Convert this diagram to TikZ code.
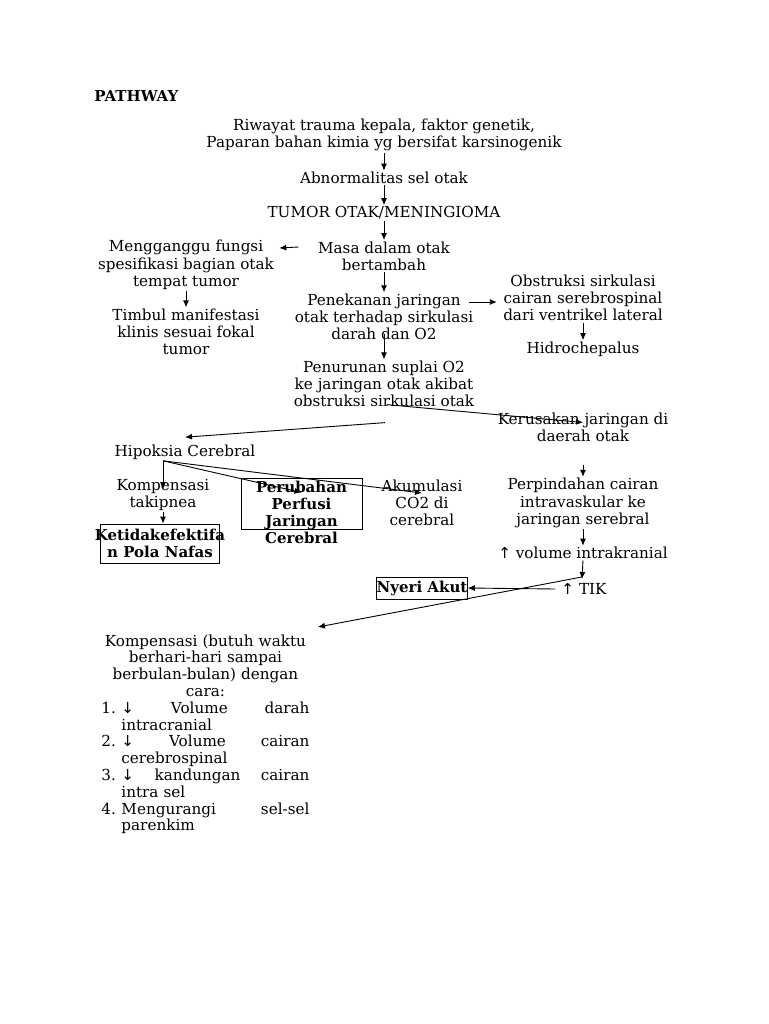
\documentclass[tikz,border=0pt]{standalone}
\usepackage{fontspec}
\setmainfont{DejaVu Serif}
\newfontfamily\arrowfont{DejaVu Sans}
\usetikzlibrary{arrows.meta}
\newcommand{\upar}{{\arrowfont ↑}}
\newcommand{\dnar}{{\arrowfont ↓}}

\begin{document}
\begin{tikzpicture}[x=1pt, y=-1pt, >={Latex[length=7pt,width=6pt]}, line width=0.9pt,
        txt/.style={align=center, inner sep=1pt, font=\fontsize{15.2}{17.3}\selectfont},
        bold/.style={txt, font=\fontsize{15}{17}\selectfont\bfseries},
        box/.style={draw, line width=0.9pt}]
        \useasboundingbox (0,0) rectangle (768,1024);

        \node[anchor=west, inner sep=0pt, font=\fontsize{15}{15}\selectfont\bfseries] (title) at (94,96) {PATHWAY};

        \node[txt] (cause) at (384,135) {Riwayat trauma kepala, faktor genetik,\\Paparan bahan kimia yg bersifat karsinogenik};
        \node[txt] (abnorm) at (384,178) {Abnormalitas sel otak};
        \node[txt] (tumor) at (384,213) {TUMOR OTAK/MENINGIOMA};
        \node[txt] (masa) at (384,256) {Masa dalam otak\\bertambah};
        \node[txt] (ganggu) at (186,265) {Mengganggu fungsi\\spesifikasi bagian otak\\tempat tumor};
        \node[txt] (timbul) at (186,332) {Timbul manifestasi\\klinis sesuai fokal\\tumor};
        \node[txt] (tekan) at (384,317) {Penekanan jaringan\\otak terhadap sirkulasi\\darah dan O2};
        \node[txt] (obstr) at (583,298) {Obstruksi sirkulasi\\cairan serebrospinal\\dari ventrikel lateral};
        \node[txt] (hidro) at (583,349) {Hidrochepalus};
        \node[txt] (turun) at (384,384) {Penurunan suplai O2\\ke jaringan otak akibat\\obstruksi sirkulasi otak};
        \node[txt] (rusak) at (583,427) {Kerusakan jaringan di\\daerah otak};
        \node[txt] (hipoksia) at (185,452) {Hipoksia Cerebral};
        \node[txt] (takip) at (163,495) {Kompensasi\\takipnea};
        \node[txt] (akumulasi) at (422,503) {Akumulasi\\CO2 di\\cerebral};
        \node[txt] (pindah) at (583,503) {Perpindahan cairan\\intravaskular ke\\jaringan serebral};
        \node[txt] (volume) at (583,553) {\upar\ volume intrakranial};
        \node[txt] (tik) at (584,589) {\upar\ TIK};

        \node[box, minimum width=121pt, minimum height=51pt] (perfusi) at (301.5,503.5) {};
        \node[bold] (perfusitx) at (301.5,512) {Perubahan\\Perfusi\\Jaringan\\Cerebral};
        \node[box, bold, inner xsep=-6pt, minimum height=39pt] (napas) at (160,543.5) {Ketidakefektifa\\n Pola Nafas};
        \node[box, bold, minimum width=90pt, minimum height=22pt, inner sep=0pt] (nyeri) at (422,588) {Nyeri Akut};

        \node[anchor=north west, inner sep=0pt, text width=208pt, font=\fontsize{15.2}{16.8}\selectfont] (komp) at (101,634) {\parindent=0pt
                {\centering Kompensasi (butuh waktu\\berhari-hari sampai\\berbulan-bulan) dengan\\cara:\par}
                \makebox[20pt][l]{1.}\dnar\hfill Volume\hfill darah\par
                \hspace*{20pt}intracranial\par
                \makebox[20pt][l]{2.}\dnar\hfill Volume\hfill cairan\par
                \hspace*{20pt}cerebrospinal\par
                \makebox[20pt][l]{3.}\dnar\hfill kandungan\hfill cairan\par
                \hspace*{20pt}intra sel\par
                \makebox[20pt][l]{4.}Mengurangi\hfill sel-sel\par
                \hspace*{20pt}parenkim\par};

        \coordinate (hk) at ([xshift=-22pt]hipoksia.south);

        \draw[->] (cause) -- (abnorm);
        \draw[->] (abnorm) -- (tumor);
        \draw[->] (tumor) -- (masa);
        \draw[->] ([xshift=-18pt,yshift=9pt]masa.west) -- ([xshift=4pt,yshift=17pt]ganggu.east);
        \draw[->] (ganggu) -- (timbul);
        \draw[->] (masa) -- (tekan);
        \draw[->] ([xshift=-6pt,yshift=15pt]tekan.east) -- ([xshift=-5pt,yshift=-4pt]obstr.west);
        \draw[->] (obstr) -- (hidro);
        \draw[->, shorten <=-8pt] (tekan) -- (turun);
        \draw[->] ([xshift=3pt,yshift=4pt]turun.south) -- ([yshift=4.5pt]rusak.center);
        \draw[->] ([xshift=1pt,yshift=-14pt]turun.south) -- ([yshift=6pt]hipoksia.north);
        \draw[->] (hk) -- ([yshift=6pt]takip.center);
        \draw[->] (hk) -- ([yshift=11pt]perfusi.center);
        \draw[->] (hk) -- ([yshift=10pt]akumulasi.center);
        \draw[->] (takip.south) -- (takip.south |- napas.north);
        \draw[->, shorten <=22pt] (rusak) -- (pindah);
        \draw[->] (pindah) -- (volume);
        \draw[->] (volume.south) -- ([xshift=-2pt,yshift=3pt]tik.north);
        \draw[->] ([xshift=-2pt,yshift=5pt]tik.north) -- ([xshift=8pt,yshift=7pt]komp.north east);
        \draw[->] ([xshift=-5pt]tik.west) -- (nyeri.east);
\end{tikzpicture}
\end{document}
